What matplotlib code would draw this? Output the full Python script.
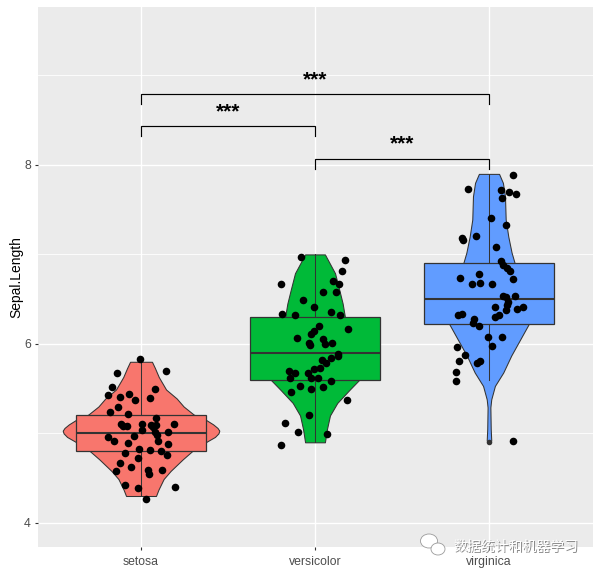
import matplotlib
matplotlib.use('Agg')
import matplotlib.pyplot as plt
from matplotlib.patches import Ellipse, Rectangle

plt.rcParams['font.family'] = ['Liberation Sans', 'Noto Sans CJK SC', 'DejaVu Sans']

species = ['setosa', 'versicolor', 'virginica']
colors = ['#F8766D', '#00BA38', '#619CFF']

# jittered points
setosa_x = [0.996, 0.864, 1.144, 0.835, 1.079, 0.808, 0.929, 0.879, 1.052, 0.967, 0.870, 0.824,
            0.923, 1.088, 1.190, 0.885, 0.895, 0.920, 1.008, 1.056, 1.084, 1.071, 1.008, 1.082,
            1.157, 1.090, 0.958, 0.808, 0.847, 1.100, 0.923, 1.157, 0.989, 1.052, 1.117, 0.906,
            1.149, 0.985, 0.879, 0.941, 0.858, 1.038, 1.044, 1.123, 0.908, 1.197, 0.985, 1.029]
setosa_y = [5.83, 5.68, 5.70, 5.52, 5.50, 5.43, 5.44, 5.41, 5.39, 5.37, 5.29, 5.24,
            5.22, 5.17, 5.11, 5.11, 5.08, 5.08, 5.10, 5.09, 5.09, 5.07, 5.04, 5.02,
            5.01, 4.98, 4.97, 4.96, 4.92, 4.92, 4.89, 4.88, 4.82, 4.81, 4.80, 4.78,
            4.76, 4.72, 4.67, 4.62, 4.58, 4.59, 4.55, 4.59, 4.42, 4.40, 4.39, 4.27]

versicolor_x = [1.921, 2.174, 2.157, 1.805, 2.103, 2.136, 2.119, 2.048, 1.933, 1.992, 2.092, 1.812,
                1.883, 2.142, 2.025, 2.192, 1.994, 1.979, 1.898, 2.048, 1.966, 1.969, 2.057, 2.098,
                2.130, 2.130, 2.092, 2.042, 2.063, 2.027, 1.992, 1.849, 1.883, 1.960, 1.854, 1.977,
                2.019, 2.090, 1.916, 1.979, 2.048, 1.860, 2.186, 1.966, 1.828, 1.904, 2.071, 1.805]
versicolor_y = [6.97, 6.94, 6.82, 6.67, 6.70, 6.67, 6.58, 6.58, 6.49, 6.41, 6.36, 6.33,
                6.32, 6.32, 6.20, 6.17, 6.14, 6.11, 6.07, 6.06, 6.01, 5.99, 6.00, 6.01,
                5.89, 5.86, 5.84, 5.82, 5.79, 5.73, 5.72, 5.70, 5.68, 5.68, 5.62, 5.62,
                5.62, 5.59, 5.53, 5.50, 5.52, 5.46, 5.37, 5.21, 5.12, 5.01, 4.99, 4.87]

virginica_x = [3.140, 2.881, 3.067, 3.117, 3.155, 3.073, 3.013, 3.100, 2.925, 2.845, 2.852, 3.040,
               3.067, 3.082, 3.102, 3.123, 2.944, 2.835, 3.140, 2.950, 2.900, 3.019, 3.149, 3.082,
               3.098, 3.111, 3.034, 3.102, 3.096, 3.161, 3.193, 2.845, 2.824, 3.059, 3.034, 2.914,
               2.908, 2.944, 2.996, 3.077, 3.019, 2.814, 2.864, 2.830, 2.950, 2.933, 2.808, 2.808, 3.139]
virginica_y = [7.89, 7.73, 7.72, 7.70, 7.67, 7.63, 7.41, 7.33, 7.21, 7.18, 7.16, 7.08,
               6.93, 6.88, 6.85, 6.82, 6.78, 6.74, 6.72, 6.68, 6.67, 6.67, 6.53, 6.53,
               6.52, 6.47, 6.41, 6.43, 6.38, 6.39, 6.41, 6.33, 6.32, 6.32, 6.30, 6.28,
               6.23, 6.20, 6.08, 6.08, 5.98, 5.97, 5.88, 5.81, 5.81, 5.79, 5.69, 5.58, 4.91]

outlier_x = [3.0]
outlier_y = [4.905]

points_x = [setosa_x, versicolor_x, virginica_x]
points_y = [setosa_y, versicolor_y, virginica_y]

# violin outlines: height and half width
setosa_vy = [4.30, 4.37, 4.49, 4.58, 4.71, 4.80, 4.91, 4.96, 5.00, 5.03, 5.06, 5.10, 5.15, 5.21, 5.30, 5.39, 5.49, 5.63, 5.73, 5.80]
setosa_vw = [0.086, 0.10, 0.13, 0.17, 0.24, 0.293, 0.38, 0.425, 0.445, 0.45, 0.44, 0.415, 0.374, 0.303, 0.245, 0.205, 0.144, 0.102, 0.08, 0.063]
versicolor_vy = [4.90, 5.05, 5.20, 5.34, 5.49, 5.60, 5.75, 5.93, 6.16, 6.30, 6.45, 6.60, 6.79, 7.00]
versicolor_vw = [0.057, 0.069, 0.086, 0.128, 0.20, 0.255, 0.31, 0.32, 0.24, 0.172, 0.159, 0.14, 0.115, 0.057]
virginica_vy = [4.90, 4.92, 5.05, 5.29, 5.38, 5.53, 5.68, 5.87, 6.22, 6.50, 6.90, 7.02, 7.20, 7.39, 7.65, 7.80, 7.90]
virginica_vw = [0.006, 0.013, 0.010, 0.008, 0.013, 0.034, 0.082, 0.128, 0.228, 0.26, 0.148, 0.13, 0.111, 0.096, 0.092, 0.08, 0.058]
violin_y = [setosa_vy, versicolor_vy, virginica_vy]
violin_w = [setosa_vw, versicolor_vw, virginica_vw]

q1 = [4.8, 5.6, 6.225]
median = [5.0, 5.9, 6.5]
q3 = [5.2, 6.3, 6.9]
whisker_lo = [4.3, 4.9, 5.6]
whisker_hi = [5.8, 7.0, 7.9]

bracket_from = [1, 1, 2]
bracket_to = [3, 2, 3]
bracket_top = [8.79, 8.43, 8.07]
bracket_tip = [8.68, 8.32, 7.96]
bracket_label_y = [8.95, 8.59, 8.24]
bracket_label = ['***', '***', '***']

fig = plt.figure(figsize=(6, 5.73), dpi=100)
ax = fig.add_axes([37.5 / 600, 1 - 547 / 573, (592.5 - 37.5) / 600, (547 - 7) / 573])
ax.set_facecolor('#EBEBEB')
ax.set_xlim(0.405, 3.595)
ax.set_ylim(3.73, 9.765)
for s in ax.spines.values():
    s.set_visible(False)

ax.set_axisbelow(True)
ax.set_yticks([4, 6, 8])
ax.set_yticks([5, 7, 9], minor=True)
ax.set_xticks([1, 2, 3])
ax.set_xticklabels(species)
ax.grid(True, which='major', color='white', lw=1.0)
ax.grid(True, which='minor', axis='y', color='white', lw=0.6)
ax.tick_params(which='minor', length=0)
ax.tick_params(which='major', length=2.2, width=0.8, color='#333333', labelcolor='#4D4D4D',
               labelsize=8.8, pad=2.5)
ax.tick_params(axis='x', pad=4)
ax.set_ylabel('Sepal.Length', fontsize=10, color='black', labelpad=1)

for i in range(3):
    c = i + 1
    left = [c - w for w in violin_w[i]]
    right = [c + w for w in violin_w[i]]
    ax.fill_betweenx(violin_y[i], left, right, facecolor=colors[i], edgecolor='#333333', lw=0.75, zorder=2)
    ax.plot([c, c], [whisker_lo[i], whisker_hi[i]], color='#333333', lw=0.75, zorder=3)
    ax.add_patch(Rectangle((c - 0.372, q1[i]), 0.744, q3[i] - q1[i], facecolor=colors[i],
                           edgecolor='#333333', lw=0.9, zorder=4))
    ax.plot([c - 0.372, c + 0.372], [median[i], median[i]], color='#333333', lw=1.5,
            solid_capstyle='butt', zorder=5)
    ax.scatter(points_x[i], points_y[i], s=30, color='black', lw=0, zorder=6)
ax.scatter(outlier_x, outlier_y, s=16, color='#333333', lw=0, zorder=6)

for a, b, top, tip, ly, lab in zip(bracket_from, bracket_to, bracket_top, bracket_tip,
                                   bracket_label_y, bracket_label):
    ax.plot([a, a, b, b], [tip, top, top, tip], color='black', lw=0.85, zorder=7,
            solid_joinstyle='miter')
    ax.text((a + b) / 2, ly, lab, ha='center', va='center', fontsize=15, color='black',
            weight='bold', zorder=8)

# watermark over the lower right corner, grey copy behind gives the shadow
cjk = ['Noto Sans CJK SC', 'DejaVu Sans']
fig.text(517 / 600, 1 - 548 / 573, '数据统计和机器学习', ha='center', va='center', fontsize=10,
         color='#8C8C8C', family=cjk, zorder=10)
fig.text(516 / 600, 1 - 547 / 573, '数据统计和机器学习', ha='center', va='center', fontsize=10,
         color='white', family=cjk, zorder=11)
for cx, cy, w, h in [(429, 541, 17, 14), (438, 549, 14, 12)]:
    fig.add_artist(Ellipse((cx / 600, 1 - cy / 573), w / 600, h / 573, transform=fig.transFigure,
                           facecolor='white', edgecolor='#9A9A9A', lw=0.6, zorder=10))

fig.savefig('out.png', dpi=100)
